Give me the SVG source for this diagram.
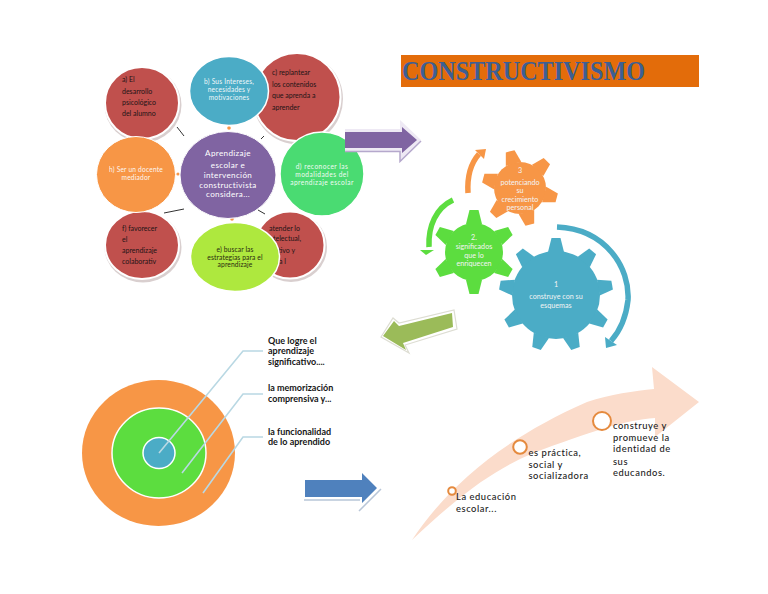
<svg xmlns="http://www.w3.org/2000/svg" width="768" height="594" viewBox="0 0 768 594">
<defs>
<style>
text{font-family:Lato,"Liberation Sans",sans-serif}
.w{fill:#fff;text-anchor:middle;font-size:6.6px;letter-spacing:.2px;opacity:.92}
.k{fill:#1c1416;font-size:7px}
.g{fill:#f4f4f4;text-anchor:middle;font-size:7.2px}
.t{fill:#161616;font-size:9px;font-weight:700}
.c{fill:#222;font-size:9.4px;letter-spacing:.55px;font-weight:500}
.ring{fill:#fff;stroke:#E58A3E;stroke-width:2}
.lead{fill:none;stroke:#B9D8E3;stroke-width:1.6}
.red{fill:#C0504D;stroke:#fff;stroke-width:2}
.sh{fill:#D9CFCF}
.conn{stroke:#333;stroke-width:1;fill:none}
</style>
<polygon id="tb" points="-8,-43 -4.500,-57 4.500,-57 8,-43"/>
<polygon id="tg" points="-8,-28 -4.500,-42 4.500,-42 8,-28"/>
<polygon id="to" points="-8,-25 -4.500,-38 4.500,-38 8,-25"/>
</defs>
<rect width="768" height="594" fill="#fff"/>

<g id="connectors">
<path class="conn" d="M177 127L184 136M261 139L264 136M164 213L184 209M258 210L265 214"/>
<circle cx="229" cy="128" r="1.8" fill="#F79646"/>
<circle cx="178" cy="174" r="1.6" fill="#F79646"/>
<circle cx="232" cy="219" r="1.8" fill="#F79646"/>
</g>

<g id="node-a"><ellipse class="sh" cx="143" cy="105" rx="38.500" ry="37.500"/><ellipse class="red" cx="142" cy="103" rx="37" ry="36"/>
<text class="k"><tspan x="122" y="82">a) El</tspan><tspan x="122" y="94">desarrollo</tspan><tspan x="122" y="105">psicológico</tspan><tspan x="122" y="116">del alumno</tspan></text></g>
<g id="node-c"><ellipse class="sh" cx="298" cy="99" rx="45" ry="45.500"/><ellipse class="red" cx="297" cy="97" rx="43.500" ry="44"/>
<text class="k"><tspan x="272" y="75">c) replantear</tspan><tspan x="272" y="87">los contenidos</tspan><tspan x="272" y="98">que aprenda a</tspan><tspan x="272" y="110">aprender</tspan></text></g>
<g id="node-b"><ellipse cx="229" cy="91" rx="39.500" ry="34.500" fill="#4BACC6" stroke="#fff" stroke-width="1.500"/>
<text class="w"><tspan x="229" y="84">b) Sus Intereses,</tspan><tspan x="229" y="92">necesidades y</tspan><tspan x="229" y="100">motivaciones</tspan></text></g>
<g id="node-f"><ellipse class="sh" cx="143" cy="247" rx="38.500" ry="35.500"/><ellipse class="red" cx="142" cy="245" rx="37" ry="34"/>
<text class="k"><tspan x="122" y="231">f) favorecer</tspan><tspan x="122" y="242">el</tspan><tspan x="122" y="253">aprendizaje</tspan><tspan x="122" y="264">colaborativ</tspan></text></g>
<g id="node-g"><ellipse class="sh" cx="291" cy="247" rx="36" ry="35"/><ellipse class="red" cx="290" cy="245" rx="34.500" ry="33.500"/>
<text class="k"><tspan x="269" y="231">atender lo</tspan><tspan x="273" y="241">telectual,</tspan><tspan x="278" y="253">tivo y</tspan><tspan x="279" y="264">a l</tspan></text></g>
<g id="node-h"><ellipse cx="136" cy="174.500" rx="39.500" ry="38" fill="#F79646" stroke="#fff" stroke-width="1"/>
<text class="w"><tspan x="136" y="172">h) Ser un docente</tspan><tspan x="136" y="180">mediador</tspan></text></g>
<g id="node-d"><circle cx="322" cy="174" r="42" fill="#4ADB72" stroke="#fff" stroke-width="1.500"/>
<text class="w" style="letter-spacing:.45px"><tspan x="322" y="169">d) reconocer las</tspan><tspan x="322" y="177">modalidades del</tspan><tspan x="322" y="184.500">aprendizaje escolar</tspan></text></g>
<g id="node-center"><ellipse cx="228" cy="175" rx="48" ry="43.500" fill="#8064A2" stroke="#fff" stroke-width="1"/>
<text fill="#fff" text-anchor="middle" font-size="8.100" letter-spacing=".35"><tspan x="228" y="156">Aprendizaje</tspan><tspan x="228" y="168">escolar e</tspan><tspan x="228" y="178">intervención</tspan><tspan x="228" y="188">constructivista</tspan><tspan x="228" y="197">considera...</tspan></text></g>
<g id="node-e"><ellipse cx="235" cy="257" rx="44.500" ry="34.500" fill="#AEE83E" stroke="#fff" stroke-width="1.500"/>
<text fill="#2a2a10" text-anchor="middle" font-size="6.700" letter-spacing=".12"><tspan x="235" y="252">e) buscar las</tspan><tspan x="235" y="259.500">estrategias  para el</tspan><tspan x="235" y="267">aprendizaje</tspan></text></g>

<g id="title"><rect x="401" y="55" width="298" height="32" fill="#E36C0A"/>
<text x="402" y="80" font-size="27" font-weight="700" textLength="243" lengthAdjust="spacingAndGlyphs" fill="#3D5F94" style="font-family:'Liberation Serif',serif">CONSTRUCTIVISMO</text></g>

<g id="arrow-purple">
<polygon points="400,120 421,140 400,162 400,152 345,152 345,129 400,129" fill="#EEE9F4"/>
<path d="M345 151.500H400V161.500L421 141" fill="none" stroke="#B5A8CC" stroke-width="1.500"/>
<polygon points="345,132 402,132 402,127 417,140 402,153 402,148 345,148" fill="#8064A2"/>
</g>

<g id="gear-blue" fill="#4BACC6">
<circle cx="556" cy="295" r="44"/>
<g transform="translate(556 295)"><use href="#tb"/><use href="#tb" transform="rotate(40)"/><use href="#tb" transform="rotate(80)"/><use href="#tb" transform="rotate(120)"/><use href="#tb" transform="rotate(160)"/><use href="#tb" transform="rotate(200)"/><use href="#tb" transform="rotate(240)"/><use href="#tb" transform="rotate(280)"/><use href="#tb" transform="rotate(320)"/></g>
<text class="g"><tspan x="556" y="287">1</tspan><tspan x="556" y="299">construye con su</tspan><tspan x="556" y="308">esquemas</tspan></text>
</g>
<g id="gear-green" fill="#5CDD3F">
<circle cx="474" cy="252" r="29"/>
<g transform="translate(474 252)"><use href="#tg"/><use href="#tg" transform="rotate(60)"/><use href="#tg" transform="rotate(120)"/><use href="#tg" transform="rotate(180)"/><use href="#tg" transform="rotate(240)"/><use href="#tg" transform="rotate(300)"/></g>
<text class="g"><tspan x="474" y="240">2.</tspan><tspan x="474" y="249">significados</tspan><tspan x="474" y="258">que lo</tspan><tspan x="474" y="266">enriquecen</tspan></text>
</g>
<g id="gear-orange" fill="#F79646">
<circle cx="520" cy="188" r="26"/>
<g transform="translate(520 188) rotate(-15)"><use href="#to"/><use href="#to" transform="rotate(60)"/><use href="#to" transform="rotate(120)"/><use href="#to" transform="rotate(180)"/><use href="#to" transform="rotate(240)"/><use href="#to" transform="rotate(300)"/></g>
<text class="g"><tspan x="520" y="173">3</tspan><tspan x="520" y="185">potenciando</tspan><tspan x="520" y="193">su</tspan><tspan x="520" y="202">crecimiento</tspan><tspan x="520" y="210">personal</tspan></text>
</g>
<g id="gear-arrows" fill="none" stroke-width="5.500">
<path d="M557 227C606 229 630 268 628 300C626 318 619 332 611 341" stroke="#4BACC6"/>
<polygon points="605,337 617,345 606,348" fill="#4BACC6"/>
<path d="M453 200C436 208 428 226 429 247" stroke="#5CDD3F"/>
<polygon points="420,250 434,250 426,255" fill="#5CDD3F"/>
<path d="M468 193C467 176 471 163 479 154" stroke="#F79646"/>
<polygon points="475,150 486,149 484,159" fill="#F79646"/>
</g>

<g id="arrow-green">
<polygon points="381,337 393,318 399,323 454,310 457,329 405,345 409,353" fill="#fff" stroke="#DDDDD2" stroke-width="1.200"/>
<polygon points="383,336 394,321 399,326 452,313 453,327 403,343 406,350" fill="#9BBB59"/>
</g>

<g id="target">
<ellipse cx="158.500" cy="453" rx="76.500" ry="73" fill="#F79646"/>
<ellipse cx="159" cy="453" rx="47" ry="45" fill="#5CDD3F" stroke="#fff" stroke-width="1.500"/>
<ellipse cx="159" cy="453" rx="16" ry="15.500" fill="#4BACC6" stroke="#fff" stroke-width="1.500"/>
</g>
<g id="leaders">
<path class="lead" d="M263 351H243L159 453"/>
<path class="lead" d="M263 394H243L182 473"/>
<path class="lead" d="M263 437H243L203 493"/>
</g>
<g id="target-labels">
<text class="t"><tspan x="268" y="344">Que logre el</tspan><tspan x="268" y="354">aprendizaje</tspan><tspan x="268" y="365">significativo....</tspan></text>
<text class="t"><tspan x="268" y="391">la memorización</tspan><tspan x="268" y="402">comprensiva y...</tspan></text>
<text class="t"><tspan x="268" y="435">la funcionalidad</tspan><tspan x="268" y="445">de lo aprendido</tspan></text>
</g>

<g id="arrow-blue">
<path d="M304 500H360M359 511L381 489" fill="none" stroke="#B8C6D8" stroke-width="1.500"/>
<polygon points="305,480 362,480 362,473 377,488 362,503 362,497 305,497" fill="#4F81BD"/>
</g>

<g id="curve-arrow">
<path d="M412 540C445 490 500 440 587 402C610 394 635 391 654 389L652 367L699 402L655 437L655 418C625 420 590 432 533 453C500 468 470 485 412 540Z" fill="#FBDCCB"/>
<circle class="ring" cx="452" cy="491" r="3.800"/>
<circle class="ring" cx="520" cy="447" r="6.800"/>
<circle class="ring" cx="602" cy="421" r="9"/>
<text class="c"><tspan x="456" y="500">La educación</tspan><tspan x="456" y="512">escolar...</tspan></text>
<text class="c"><tspan x="528.500" y="456">es práctica,</tspan><tspan x="528.500" y="468">social y</tspan><tspan x="528.500" y="479">socializadora</tspan></text>
<text class="c"><tspan x="613" y="429">construye y</tspan><tspan x="613" y="441">promueve la</tspan><tspan x="613" y="452">identidad de</tspan><tspan x="613" y="465">sus</tspan><tspan x="613" y="476">educandos.</tspan></text>
</g>
</svg>
